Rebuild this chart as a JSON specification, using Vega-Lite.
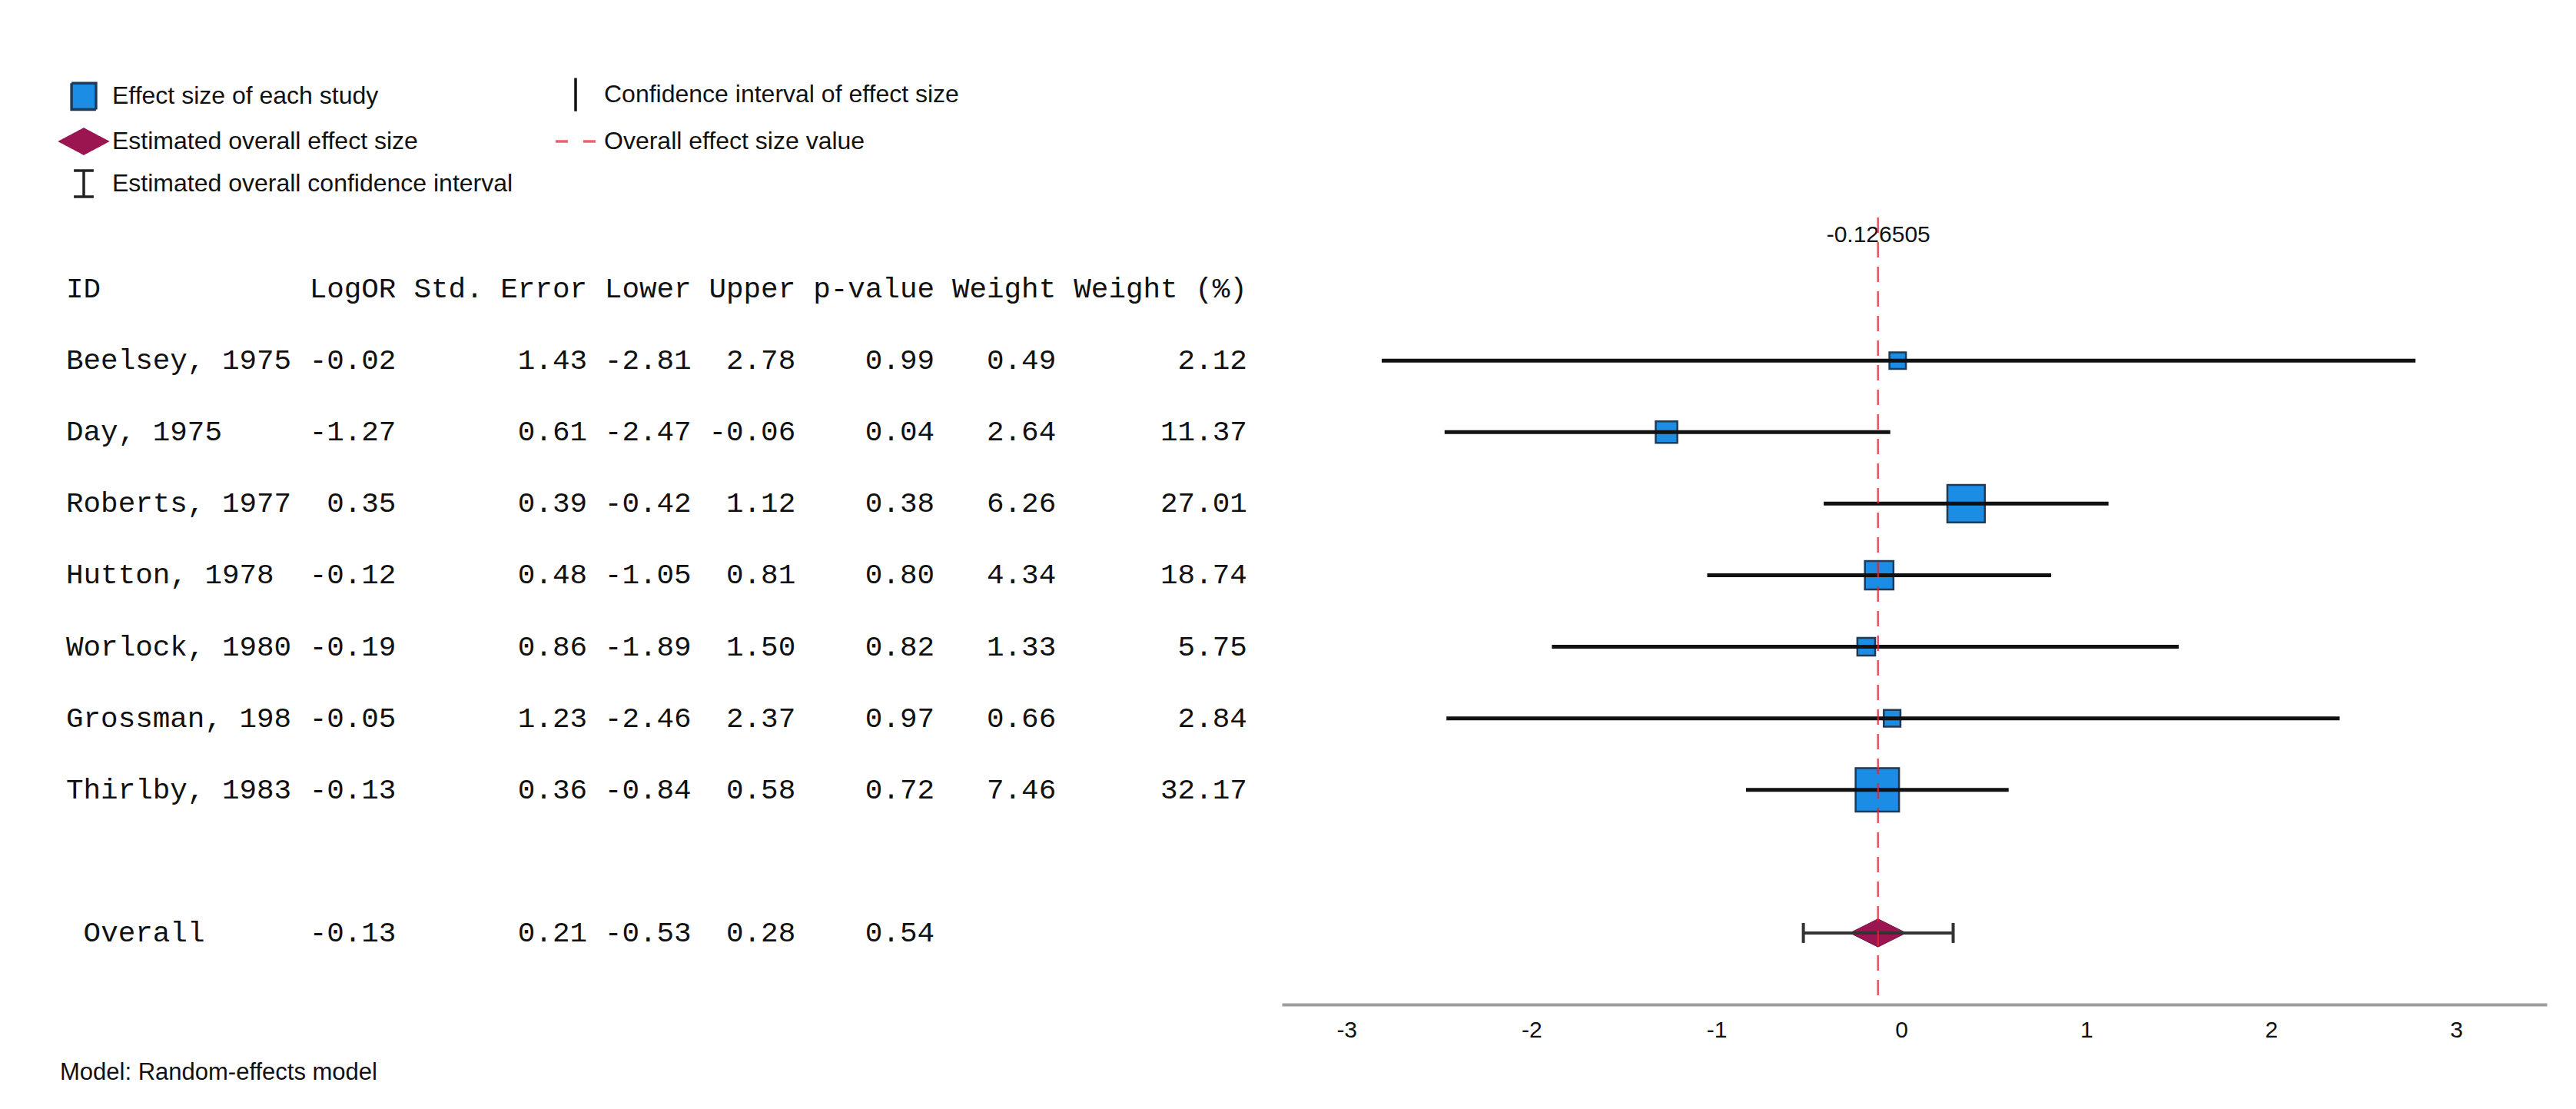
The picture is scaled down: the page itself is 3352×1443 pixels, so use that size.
{
  "$schema": "https://vega.github.io/schema/vega-lite/v6.json",
  "background": "white",
  "padding": {"left": 77, "top": 91, "right": 30, "bottom": 20},
  "spacing": 0,
  "bounds": "flush",
  "datasets": {
    "rows": [
      {"id": "Beelsey, 1975", "kind": "study", "logor": -0.02, "se": 1.43, "lower": -2.81, "upper": 2.78, "p": 0.99, "weight": 0.49, "weight_pct": 2.12},
      {"id": "Day, 1975", "kind": "study", "logor": -1.27, "se": 0.61, "lower": -2.47, "upper": -0.06, "p": 0.04, "weight": 2.64, "weight_pct": 11.37},
      {"id": "Roberts, 1977", "kind": "study", "logor": 0.35, "se": 0.39, "lower": -0.42, "upper": 1.12, "p": 0.38, "weight": 6.26, "weight_pct": 27.01},
      {"id": "Hutton, 1978", "kind": "study", "logor": -0.12, "se": 0.48, "lower": -1.05, "upper": 0.81, "p": 0.80, "weight": 4.34, "weight_pct": 18.74},
      {"id": "Worlock, 1980", "kind": "study", "logor": -0.19, "se": 0.86, "lower": -1.89, "upper": 1.50, "p": 0.82, "weight": 1.33, "weight_pct": 5.75},
      {"id": "Grossman, 198", "kind": "study", "logor": -0.05, "se": 1.23, "lower": -2.46, "upper": 2.37, "p": 0.97, "weight": 0.66, "weight_pct": 2.84},
      {"id": "Thirlby, 1983", "kind": "study", "logor": -0.13, "se": 0.36, "lower": -0.84, "upper": 0.58, "p": 0.72, "weight": 7.46, "weight_pct": 32.17},
      {"id": "Overall", "kind": "overall", "logor": -0.126505, "se": 0.21, "lower": -0.53, "upper": 0.28, "p": 0.54}
    ],
    "headers": [
      {"label": "ID"}, {"label": "LogOR"}, {"label": "Std. Error"}, {"label": "Lower"},
      {"label": "Upper"}, {"label": "p-value"}, {"label": "Weight"}, {"label": "Weight (%)"}
    ],
    "legend_items": [
      {"item": "Effect size of each study"},
      {"item": "Estimated overall effect size"},
      {"item": "Estimated overall confidence interval"},
      {"item": "Confidence interval of effect size"},
      {"item": "Overall effect size value"}
    ]
  },
  "hconcat": [
    {
      "width": 1582,
      "height": 1024,
      "title": {"text": "Model: Random-effects model", "orient": "bottom", "anchor": "start", "frame": "group", "offset": 89, "baseline": "middle", "dx": -8, "font": "Liberation Sans", "fontSize": 31, "fontWeight": "normal", "color": "#111"},
      "data": {"name": "rows"},
      "encoding": {
        "y": {"field": "id", "type": "nominal", "axis": null,
          "scale": {"type": "point", "domain": ["header", "Beelsey, 1975", "Day, 1975", "Roberts, 1977", "Hutton, 1978", "Worlock, 1980", "Grossman, 198", "Thirlby, 1983", "blank", "Overall"], "padding": 1.078, "align": 0.5}}
      },
      "layer": [
        {
          "data": {"name": "legend_items"},
          "mark": {"type": "point", "opacity": 0, "filled": true},
          "encoding": {
            "y": {"value": 0},
            "shape": {"field": "item", "type": "nominal",
              "scale": {"domain": ["Effect size of each study", "Estimated overall effect size", "Estimated overall confidence interval", "Confidence interval of effect size", "Overall effect size value"],
                "range": ["M-0.53,-0.57L0.53,-0.57L0.53,0.57L-0.53,0.57Z", "M-1,0L0,-0.53L1,0L0,0.53Z", "M-0.43,-0.57L0.43,-0.57M0,-0.57L0,0.57M-0.43,0.57L0.43,0.57", "M0,-0.72L0,0.72", "M-0.87,0L0.87,0"]},
              "legend": {"orient": "none", "legendX": -9, "legendY": -192, "columns": 2, "title": null, "symbolSize": 3600, "symbolStrokeWidth": 3.5, "symbolOpacity": 1, "labelFont": "Liberation Sans", "labelFontSize": 32, "labelColor": "#111", "labelLimit": 1000, "labelOffset": 5, "columnPadding": 47, "rowPadding": 0, "padding": 0}},
            "fill": {"field": "item", "type": "nominal",
              "scale": {"domain": ["Effect size of each study", "Estimated overall effect size", "Estimated overall confidence interval", "Confidence interval of effect size", "Overall effect size value"],
                "range": ["#1b8de5", "#9b1550", "transparent", "transparent", "transparent"]}},
            "stroke": {"field": "item", "type": "nominal",
              "scale": {"domain": ["Effect size of each study", "Estimated overall effect size", "Estimated overall confidence interval", "Confidence interval of effect size", "Overall effect size value"],
                "range": ["#1f3a57", "#9b1550", "#222222", "#111111", "#e8636e"]}},
            "strokeDash": {"field": "item", "type": "nominal",
              "scale": {"domain": ["Effect size of each study", "Estimated overall effect size", "Estimated overall confidence interval", "Confidence interval of effect size", "Overall effect size value"],
                "range": [[1, 0], [1, 0], [1, 0], [1, 0], [16, 20]]}}
          }
        },
        {"data": {"name": "headers"}, "transform": [{"filter": "datum.label === 'ID'"}], "mark": {"type": "text", "align": "left"},
          "encoding": {"y": {"datum": "header", "type": "nominal"}, "x": {"datum": 0, "type": "quantitative", "scale": {"domain": [0, 70], "nice": false, "zero": false}, "axis": null}, "text": {"field": "label"}}},
        {"data": {"name": "headers"}, "transform": [{"filter": "datum.label === 'LogOR'"}], "mark": {"type": "text", "align": "right"},
          "encoding": {"y": {"datum": "header", "type": "nominal"}, "x": {"datum": 19, "type": "quantitative", "scale": {"domain": [0, 70], "nice": false, "zero": false}, "axis": null}, "text": {"field": "label"}}},
        {"data": {"name": "headers"}, "transform": [{"filter": "datum.label === 'Std. Error'"}], "mark": {"type": "text", "align": "right"},
          "encoding": {"y": {"datum": "header", "type": "nominal"}, "x": {"datum": 30, "type": "quantitative", "scale": {"domain": [0, 70], "nice": false, "zero": false}, "axis": null}, "text": {"field": "label"}}},
        {"data": {"name": "headers"}, "transform": [{"filter": "datum.label === 'Lower'"}], "mark": {"type": "text", "align": "right"},
          "encoding": {"y": {"datum": "header", "type": "nominal"}, "x": {"datum": 36, "type": "quantitative", "scale": {"domain": [0, 70], "nice": false, "zero": false}, "axis": null}, "text": {"field": "label"}}},
        {"data": {"name": "headers"}, "transform": [{"filter": "datum.label === 'Upper'"}], "mark": {"type": "text", "align": "right"},
          "encoding": {"y": {"datum": "header", "type": "nominal"}, "x": {"datum": 42, "type": "quantitative", "scale": {"domain": [0, 70], "nice": false, "zero": false}, "axis": null}, "text": {"field": "label"}}},
        {"data": {"name": "headers"}, "transform": [{"filter": "datum.label === 'p-value'"}], "mark": {"type": "text", "align": "right"},
          "encoding": {"y": {"datum": "header", "type": "nominal"}, "x": {"datum": 50, "type": "quantitative", "scale": {"domain": [0, 70], "nice": false, "zero": false}, "axis": null}, "text": {"field": "label"}}},
        {"data": {"name": "headers"}, "transform": [{"filter": "datum.label === 'Weight'"}], "mark": {"type": "text", "align": "right"},
          "encoding": {"y": {"datum": "header", "type": "nominal"}, "x": {"datum": 57, "type": "quantitative", "scale": {"domain": [0, 70], "nice": false, "zero": false}, "axis": null}, "text": {"field": "label"}}},
        {"data": {"name": "headers"}, "transform": [{"filter": "datum.label === 'Weight (%)'"}], "mark": {"type": "text", "align": "right"},
          "encoding": {"y": {"datum": "header", "type": "nominal"}, "x": {"datum": 68, "type": "quantitative", "scale": {"domain": [0, 70], "nice": false, "zero": false}, "axis": null}, "text": {"field": "label"}}},
        {"transform": [{"filter": "datum.kind === 'study'"}], "mark": {"type": "text", "align": "left"},
          "encoding": {"x": {"datum": 0, "type": "quantitative", "scale": {"domain": [0, 70], "nice": false, "zero": false}, "axis": null}, "text": {"field": "id"}}},
        {"transform": [{"filter": "datum.kind === 'overall'"}], "mark": {"type": "text", "align": "left"},
          "encoding": {"x": {"datum": 1, "type": "quantitative", "scale": {"domain": [0, 70], "nice": false, "zero": false}, "axis": null}, "text": {"field": "id"}}},
        {"mark": {"type": "text", "align": "right"},
          "encoding": {"x": {"datum": 19, "type": "quantitative", "scale": {"domain": [0, 70], "nice": false, "zero": false}, "axis": null}, "text": {"field": "logor", "type": "quantitative", "format": ".2f"}}},
        {"mark": {"type": "text", "align": "right"},
          "encoding": {"x": {"datum": 30, "type": "quantitative", "scale": {"domain": [0, 70], "nice": false, "zero": false}, "axis": null}, "text": {"field": "se", "type": "quantitative", "format": ".2f"}}},
        {"mark": {"type": "text", "align": "right"},
          "encoding": {"x": {"datum": 36, "type": "quantitative", "scale": {"domain": [0, 70], "nice": false, "zero": false}, "axis": null}, "text": {"field": "lower", "type": "quantitative", "format": ".2f"}}},
        {"mark": {"type": "text", "align": "right"},
          "encoding": {"x": {"datum": 42, "type": "quantitative", "scale": {"domain": [0, 70], "nice": false, "zero": false}, "axis": null}, "text": {"field": "upper", "type": "quantitative", "format": ".2f"}}},
        {"mark": {"type": "text", "align": "right"},
          "encoding": {"x": {"datum": 50, "type": "quantitative", "scale": {"domain": [0, 70], "nice": false, "zero": false}, "axis": null}, "text": {"field": "p", "type": "quantitative", "format": ".2f"}}},
        {"transform": [{"filter": "datum.kind === 'study'"}], "mark": {"type": "text", "align": "right"},
          "encoding": {"x": {"datum": 57, "type": "quantitative", "scale": {"domain": [0, 70], "nice": false, "zero": false}, "axis": null}, "text": {"field": "weight", "type": "quantitative", "format": ".2f"}}},
        {"transform": [{"filter": "datum.kind === 'study'"}], "mark": {"type": "text", "align": "right"},
          "encoding": {"x": {"datum": 68, "type": "quantitative", "scale": {"domain": [0, 70], "nice": false, "zero": false}, "axis": null}, "text": {"field": "weight_pct", "type": "quantitative", "format": ".2f"}}}
      ]
    },
    {
      "width": 1646,
      "height": 1024,
      "data": {"name": "rows"},
      "resolve": {"axis": {"x": "independent"}},
      "layer": [
        {
          "transform": [{"filter": "datum.kind === 'study'"}],
          "mark": {"type": "point", "shape": "square", "filled": true, "fill": "#1b8de5", "stroke": "#1f3a57", "strokeWidth": 2.5, "opacity": 1},
          "encoding": {
            "x": {"field": "logor", "type": "quantitative", "scale": {"domain": [-3.35, 3.49], "nice": false, "zero": false}, "axis": null},
            "y": {"field": "id", "type": "nominal", "axis": null,
              "scale": {"type": "point", "domain": ["header", "Beelsey, 1975", "Day, 1975", "Roberts, 1977", "Hutton, 1978", "Worlock, 1980", "Grossman, 198", "Thirlby, 1983", "blank", "Overall"], "padding": 1.078, "align": 0.5}},
            "size": {"field": "weight_pct", "type": "quantitative", "scale": {"type": "pow", "exponent": 2, "domain": [-13, 32.17], "range": [0, 3192], "zero": false}, "legend": null}
          }
        },
        {
          "transform": [{"filter": "datum.kind === 'study'"}],
          "mark": {"type": "rule", "color": "#111111", "strokeWidth": 5},
          "encoding": {
            "x": {"field": "lower", "type": "quantitative", "scale": {"domain": [-3.35, 3.49], "nice": false, "zero": false},
              "axis": {"orient": "bottom", "values": [-3, -2, -1, 0, 1, 2, 3], "title": null, "grid": false, "ticks": false, "tickSize": 0, "domain": true, "domainColor": "#9e9e9e", "domainWidth": 4, "labelFont": "Liberation Sans", "labelFontSize": 30, "labelColor": "#111", "labelPadding": 18, "labelFlush": false, "labelOverlap": false}},
            "x2": {"field": "upper"},
            "y": {"field": "id", "type": "nominal", "axis": null}
          }
        },
        {
          "transform": [{"filter": "datum.kind === 'overall'"}],
          "mark": {"type": "point", "shape": "M-1,0L0,-0.5L1,0L0,0.5Z", "size": 5329, "filled": true, "fill": "#9b1550", "stroke": "#7d0f40", "strokeWidth": 1, "opacity": 1},
          "encoding": {
            "x": {"field": "logor", "type": "quantitative", "axis": null},
            "y": {"field": "id", "type": "nominal", "axis": null}
          }
        },
        {
          "transform": [{"filter": "datum.kind === 'overall'"}],
          "mark": {"type": "rule", "color": "#333333", "strokeWidth": 4},
          "encoding": {
            "x": {"field": "lower", "type": "quantitative", "axis": null},
            "x2": {"field": "upper"},
            "y": {"field": "id", "type": "nominal", "axis": null}
          }
        },
        {
          "transform": [{"filter": "datum.kind === 'overall'"}],
          "mark": {"type": "tick", "orient": "vertical", "size": 26, "thickness": 4, "color": "#333333", "opacity": 1},
          "encoding": {
            "x": {"field": "lower", "type": "quantitative", "axis": null},
            "y": {"field": "id", "type": "nominal", "axis": null}
          }
        },
        {
          "transform": [{"filter": "datum.kind === 'overall'"}],
          "mark": {"type": "tick", "orient": "vertical", "size": 26, "thickness": 4, "color": "#333333", "opacity": 1},
          "encoding": {
            "x": {"field": "upper", "type": "quantitative", "axis": null},
            "y": {"field": "id", "type": "nominal", "axis": null}
          }
        },
        {
          "transform": [{"filter": "datum.kind === 'overall'"}],
          "mark": {"type": "rule", "color": "#e02535", "opacity": 0.78, "strokeWidth": 2.5, "strokeDash": [20, 12]},
          "encoding": {
            "x": {"field": "logor", "type": "quantitative",
              "axis": {"orient": "top", "values": [-0.126505], "format": ".6f", "title": null, "grid": false, "ticks": false, "tickSize": 0, "domain": false, "offset": -22, "labelPadding": 0, "labelBaseline": "middle", "labelFont": "Liberation Sans", "labelFontSize": 30, "labelColor": "#111", "labelFlush": false}}
          }
        }
      ]
    }
  ],
  "config": {
    "view": {"stroke": null},
    "locale": {"number": {"decimal": ".", "thousands": ",", "grouping": [3], "currency": ["$", ""], "minus": "-"}},
    "text": {"font": "Liberation Mono", "fontSize": 37.6, "baseline": "middle", "color": "#111111"}
  }
}
